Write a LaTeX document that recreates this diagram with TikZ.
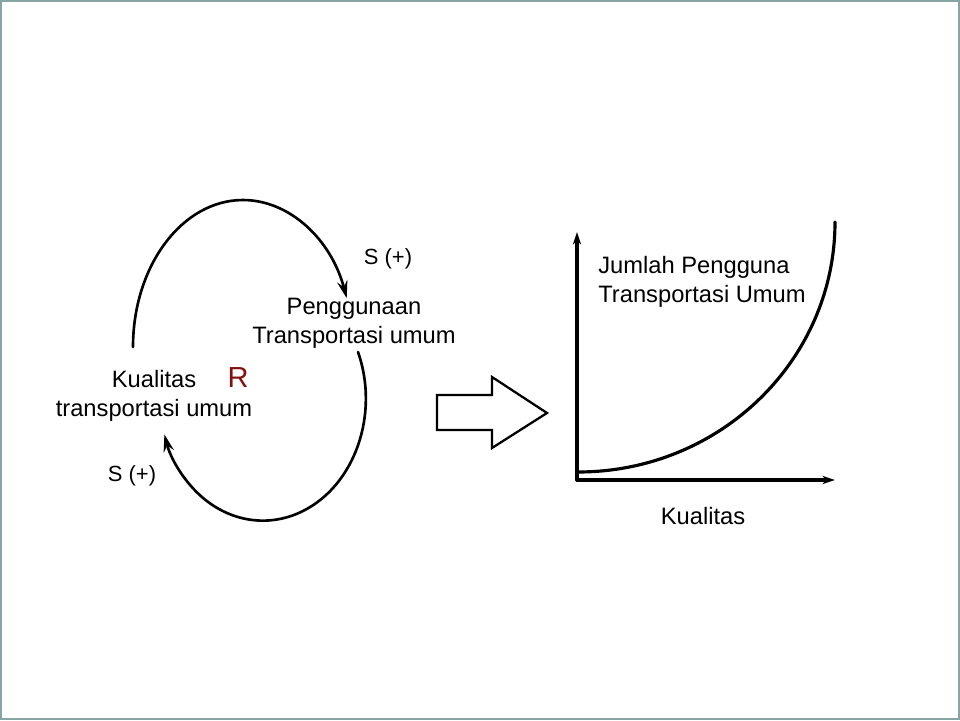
\documentclass[tikz,border=0pt]{standalone}
\usepackage{fontspec}
\setmainfont{Liberation Sans}
\usetikzlibrary{arrows.meta}
\definecolor{rahmen}{RGB}{135,165,162}
\definecolor{merah}{RGB}{128,18,18}

\begin{document}
\begin{tikzpicture}[x=0.02cm,y=0.02cm,line cap=round]
	\tikzstyle{teks}=[inner sep=0pt,align=center,font=\fontsize{13.5}{16.5}\selectfont];
	\tikzstyle{tanda}=[inner sep=0pt,font=\fontsize{12.5}{15}\selectfont];
	\tikzstyle{lingkar}=[line width=1.5pt,-{Stealth[length=10pt,width=6pt,inset=3.5pt]}];
	\tikzstyle{sumbu}=[line width=1.8pt,-{Stealth[length=7pt,width=4.5pt,inset=2pt]}];
	\tikzstyle{panah}=[line width=1.3pt,line join=miter,fill=white];
%<--------------------------------------------------------------------------->%

	\useasboundingbox (0,0) rectangle (960,720);
	\draw[rahmen,line width=0.04cm] (1,1) rectangle (959,719);
	%% Loop
	\node[teks] (peng) at (354,397) {Penggunaan\\Transportasi umum};
	\node[teks] (kual) at (154,324) {Kualitas\\transportasi umum};
	\node[inner sep=0pt,font=\fontsize{16.5}{19}\selectfont,text=merah] (R) at (238,342) {R};
	\node[tanda] (s1) at (388,461) {S (+)};
	\node[tanda] (s2) at (132,244) {S (+)};
	\coordinate (q1) at (133,373);
	\coordinate (q2) at (358,368);
	\draw[lingkar] (q1) arc[start angle=180,end angle=19.4,x radius=2.2cm,y radius=2.94cm];
	\draw[lingkar] (q2) arc[start angle=22.5,end angle=-163,x radius=2.06cm,y radius=2.44cm];
	%% Arrow
	\draw[panah] (437,325) -- (492,325) -- (492,343) -- (547,307) -- (492,272) -- (492,290) -- (437,290) -- cycle;
	%% Graph
	\coordinate (O) at (577,240);
	\coordinate (Y) at (577,488);
	\coordinate (X) at (835,240);
	\coordinate (K0) at (578,248);
	\coordinate (K1) at (835,498);
	\draw[sumbu] (O) -- (Y);
	\draw[sumbu] (O) -- (X);
	\draw[line width=1.8pt] (K0) .. controls (720,248) and (835,360) .. (K1);
	\node[teks,align=left,anchor=west] (jml) at (598,438) {Jumlah Pengguna\\Transportasi Umum};
	\node[teks] (kx) at (703,204) {Kualitas};
\end{tikzpicture}
\end{document}
